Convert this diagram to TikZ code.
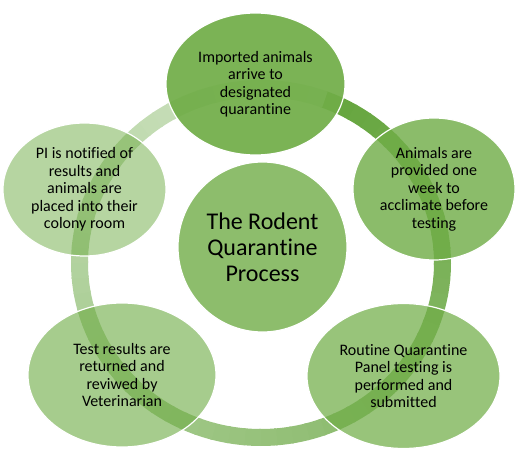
\documentclass[tikz,border=0pt]{standalone}
\usepackage{fontspec}
\setmainfont{Carlito}[Ligatures={NoCommon,NoRequired,NoContextual}]
\usetikzlibrary{shapes.geometric}
\definecolor{accent}{RGB}{112,173,71}
\definecolor{ringc}{RGB}{100,164,60}
\tikzset{
  stepnode/.style={ellipse, fill=accent, draw=white, line width=1.2pt,
    text opacity=1, text=black, align=center, inner sep=0pt,
    font=\fontsize{16}{17.5}\selectfont},
  hubnode/.style={stepnode, font=\fontsize{24}{26}\selectfont}
}
\begin{document}
\begin{tikzpicture}[x=1pt,y=1pt]
\useasboundingbox (0,0) rectangle (528,456);
% ring with gradient
\foreach \i in {0,...,71}{
  \pgfmathsetmacro\a{70-5*\i}
  \pgfmathsetmacro\b{\a-5.6}
  \pgfmathtruncatemacro\p{100-72*\i/71}
  \draw[ringc!\p!white, line width=17pt, shift={(261,193)}]
    (\a:181.5pt and 174.5pt) arc[start angle=\a, end angle=\b, x radius=181.5pt, y radius=174.5pt];
}
\node[stepnode, fill opacity=0.92, minimum width=179pt, minimum height=142pt] (n1) at (255.5,372)
  {Imported animals\\arrive to\\designated\\quaran\kern0pt tine};
\node[stepnode, fill opacity=0.81, minimum width=162pt, minimum height=142pt] (n2) at (434,267)
  {Animals are\\provided one\\week to\\acclimate before\\tes\kern0pt ting};
\node[stepnode, fill opacity=0.72, minimum width=193pt, minimum height=145pt] (n3) at (403.5,80)
  {Routine Quaran\kern0pt tine\\Panel tes\kern0pt ting is\\performed and\\submit\kern0pt ted};
\node[stepnode, fill opacity=0.62, minimum width=188pt, minimum height=144pt] (n4) at (122,81)
  {Test results are\\returned and\\reviwed by\\Veterinarian};
\node[stepnode, fill opacity=0.51, minimum width=163pt, minimum height=133pt] (n5) at (84.5,266.5)
  {PI is notified of\\results and\\animals are\\placed into their\\colony room};
\node[hubnode, fill opacity=0.8, minimum width=169pt, minimum height=170pt] (hub) at (262.5,209)
  {The Rodent\\Quaran\kern0pt tine\\Process};
\end{tikzpicture}
\end{document}
